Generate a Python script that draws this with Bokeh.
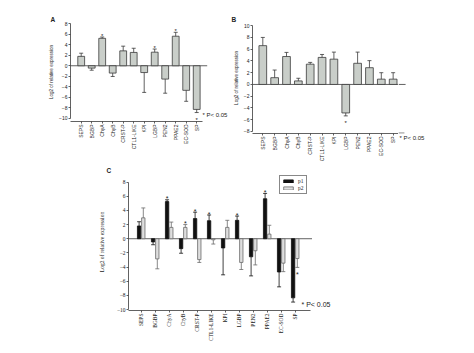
from math import pi
from bokeh.plotting import figure
from bokeh.layouts import column, row
from bokeh.models import Label, FixedTicker, Legend, LegendItem, Range1d, Title
from bokeh.core.properties import value
from bokeh.embed import file_html
from bokeh.resources import INLINE

genes = ["SEPS", "BGBP", "ChyA", "ChyB", "CRST-P", "CTL1-LIKE", "KPI", "LGBP",
         "PEN2", "PPAE2", "EC-SOD", "SP"]

# panel A (= p1 in panel C)
p1_mean = [1.8, -0.45, 5.25, -1.4, 2.85, 2.55, -1.3, 2.6, -2.55, 5.65, -4.7, -8.35]
p1_err = [0.6, 0.4, 0.25, 0.65, 0.9, 0.8, 3.8, 0.6, 2.7, 0.75, 2.1, 0.6]
a_star = [0, 0, 1, 0, 0, 0, 0, 1, 0, 1, 0, 1]

# panel B
b_mean = [6.6, 1.15, 4.75, 0.6, 3.45, 4.6, 4.3, -4.85, 3.6, 2.85, 0.9, 0.9]
b_err = [1.4, 1.3, 0.7, 0.45, 0.3, 0.5, 1.2, 0.5, 1.9, 1.2, 1.1, 1.1]
b_star = [0, 0, 0, 0, 0, 0, 0, 1, 0, 0, 0, 0]

# panel C, p2
p2_mean = [2.95, -2.85, 1.6, 1.6, -2.95, -0.15, 1.6, -3.35, -1.7, 0.65, -3.45, -2.8]
p2_err = [1.4, 1.4, 0.75, 0.4, 0.4, 0.6, 1.0, 1.0, 2.0, 1.25, 1.2, 1.25]
c_p1_star = [0, 0, 1, 0, 1, 1, 0, 1, 0, 1, 0, 0]
c_p2_star = [0, 0, 0, 1, 0, 0, 0, 0, 0, 0, 0, 1]

a_yticks = [-10, -8, -6, -4, -2, 0, 2, 4, 6, 8]
b_yticks = [-8, -6, -4, -2, 0, 2, 4, 6, 8, 10]
c_yticks = [-10, -8, -6, -4, -2, 0, 2, 4, 6, 8]
sig_text = "* P< 0.05"
y_title = "Log2 of relative expression"

BAR_FILL = "#c9cec9"
EDGE = "#3a3a3a"
TXT = "#222222"

ROW_TOP, ROW_BOTTOM, ROW_H = 22, 134, 164
A_H = ROW_H - 12  # panel A axis sits 12 px higher than panel B's


def make_panel(width, height, frame, xmap, ymap, yticks, xbounds, zero_end,
               font, tick_size, label_size, label_standoff, letter, letter_x):
    left, right, top, bottom = frame
    x0, xs = xmap
    y0, ys = ymap
    tx = lambda px: (px - x0) / xs
    ty = lambda py: (y0 - py) / ys
    p = figure(width=width, height=height, title=None,
               x_range=Range1d(tx(left), tx(right)),
               y_range=Range1d(ty(bottom), ty(top)),
               toolbar_location=None, output_backend="svg",
               min_border_left=left, min_border_right=width - right,
               min_border_top=top, min_border_bottom=height - bottom)
    p.align = "start"
    p.outline_line_color = None
    p.xgrid.visible = False
    p.ygrid.visible = False
    p.background_fill_color = "white"
    p.border_fill_color = "white"
    for ax in (p.xaxis[0], p.yaxis[0]):
        ax.axis_line_color = EDGE
        ax.axis_line_width = 0.8
        ax.major_tick_line_color = EDGE
        ax.major_tick_line_width = 0.8
        ax.major_tick_out = 2
        ax.major_tick_in = 0
        ax.minor_tick_line_color = None
        ax.major_label_text_font = font
        ax.major_label_text_font_size = tick_size
        ax.major_label_text_color = TXT
        ax.major_label_standoff = 1
    p.xaxis.ticker = FixedTicker(ticks=list(range(len(genes))))
    p.xaxis.major_label_overrides = {i: g for i, g in enumerate(genes)}
    p.xaxis.major_label_orientation = pi / 2
    p.xaxis.bounds = xbounds
    p.yaxis.ticker = FixedTicker(ticks=yticks)
    p.yaxis.bounds = (min(yticks), max(yticks))
    p.yaxis.axis_label = y_title
    p.yaxis.axis_label_text_font = font
    p.yaxis.axis_label_text_font_size = label_size
    p.yaxis.axis_label_text_font_style = "normal"
    p.yaxis.axis_label_text_color = TXT
    p.yaxis.axis_label_standoff = label_standoff
    p.segment(x0=[tx(left)], y0=[0], x1=[zero_end], y1=[0],
              line_color=EDGE, line_width=0.8)
    t = Title(text=letter, align="left", offset=letter_x - left, standoff=0,
              text_font="Liberation Sans", text_font_style="bold",
              text_font_size="6.5px", text_color=TXT, vertical_align="bottom")
    p.add_layout(t, "above")
    return p, tx, ty


def add_bars(p, xs, mean, err, stars, width, fill, edge, cap, star_size):
    r = p.vbar(x=xs, top=mean, bottom=0, width=width, fill_color=fill,
               line_color=edge, line_width=0.8)
    ends = [m + (e if m >= 0 else -e) for m, e in zip(mean, err)]
    p.segment(x0=xs, y0=mean, x1=xs, y1=ends, line_color=edge, line_width=0.8)
    p.scatter(x=xs, y=ends, marker="dash", size=cap, line_color=edge,
              line_width=0.8)
    up = [i for i, s in enumerate(stars) if s and mean[i] >= 0]
    dn = [i for i, s in enumerate(stars) if s and mean[i] < 0]
    if up:
        p.text(x=[xs[i] for i in up], y=[ends[i] for i in up], text=["*"] * len(up),
               text_font=value("Liberation Sans"), text_font_size=star_size,
               text_align="center", text_baseline="alphabetic", y_offset=-1,
               text_color=TXT)
    if dn:
        p.text(x=[xs[i] for i in dn], y=[ends[i] for i in dn], text=["*"] * len(dn),
               text_font=value("Liberation Sans"), text_font_size=star_size,
               text_align="center", text_baseline="alphabetic", y_offset=7,
               text_color=TXT)
    return r


def sig_label(p, x, y, size):
    p.add_layout(Label(x=x, y=y, text=sig_text, text_font="Liberation Sans",
                       text_font_size=size, text_baseline="middle",
                       text_color=TXT))


idx = list(range(len(genes)))

# ---------------- Panel A ----------------
pA, txA, tyA = make_panel(228, A_H, (70, 228, ROW_TOP, A_H - (ROW_H - ROW_BOTTOM)),
                          (80.7, 10.5), (65.7, 5.28), a_yticks,
                          ((70 - 80.7) / 10.5, 11.55), 12.0,
                          "Liberation Sans", "5px", "4.5px", 2, "A", 50)
add_bars(pA, idx, p1_mean, p1_err, a_star, 0.65, BAR_FILL, EDGE, 4, "6px")
sig_label(pA, txA(202), tyA(115), "6px")

# ---------------- Panel B (main + right strip) ----------------
B_W = 170
S_W = 246 - B_W
pB, txB, tyB = make_panel(B_W, ROW_H, (24, B_W, ROW_TOP, ROW_BOTTOM), (34.3, 11.85),
                          (84.5, 5.93), b_yticks, ((24 - 34.3) / 11.85, 11.95), 12.05,
                          "Liberation Sans", "5px", "4.5px", 2, "B", 3)
add_bars(pB, idx, b_mean, b_err, b_star, 0.65, BAR_FILL, EDGE, 4, "6px")

pS = figure(width=S_W, height=ROW_H, title=None,
            x_range=Range1d(txB(B_W), txB(246)),
            y_range=Range1d(tyB(ROW_BOTTOM), tyB(ROW_TOP)),
            toolbar_location=None, output_backend="svg",
            x_axis_location=None, y_axis_location=None,
            min_border_left=0, min_border_right=0,
            min_border_top=ROW_TOP, min_border_bottom=ROW_H - ROW_BOTTOM)
pS.align = "start"
pS.outline_line_color = None
pS.xgrid.visible = False
pS.ygrid.visible = False
pS.border_fill_color = "white"
pS.background_fill_color = "white"
pS.segment(x0=[txB(B_W)], y0=[0], x1=[12.05], y1=[0], line_color=EDGE, line_width=0.8)
pS.segment(x0=[txB(B_W)], y0=[tyB(ROW_BOTTOM - 0.4)], x1=[11.95],
           y1=[tyB(ROW_BOTTOM - 0.4)], line_color=EDGE, line_width=0.8)
pS.add_layout(Title(text=sig_text, align="left", offset=1, standoff=2,
                    text_font="Liberation Sans", text_font_style="normal",
                    text_font_size="6px", text_color=TXT, vertical_align="top"),
              "below")

# ---------------- Panel C ----------------
pC, txC, tyC = make_panel(474, 189, (128, 474, 8, 146), (140.7, 14.0), (73.7, 7.13),
                          c_yticks, ((128 - 140.7) / 14.0, 12.1), 12.2,
                          "Liberation Serif", "5.5px", "5.5px", 9, "C", 106)
x_p1 = [i - 0.15 for i in idx]
x_p2 = [i + 0.15 for i in idx]
r1 = add_bars(pC, x_p1, p1_mean, p1_err, c_p1_star, 0.24, "#111111", "#111111", 4, "7px")
r2 = add_bars(pC, x_p2, p2_mean, p2_err, c_p2_star, 0.24, "#dedede", "#6a6a6a", 4, "7px")
sig_label(pC, txC(301), tyC(139.5), "7px")

legend = Legend(items=[LegendItem(label="p1", renderers=[r1]),
                       LegendItem(label="p2", renderers=[r2])],
                location=(151, 116), orientation="vertical")
legend.glyph_width = 12
legend.glyph_height = 4
legend.label_height = 5
legend.label_width = 6
legend.padding = 2
legend.spacing = 1
legend.margin = 0
legend.label_standoff = 4
legend.label_text_font = "Liberation Serif"
legend.label_text_font_size = "5.5px"
legend.label_text_color = TXT
legend.border_line_color = "#111111"
legend.border_line_width = 0.8
legend.background_fill_alpha = 1
pC.add_layout(legend)

top_row = row(pA, pB, pS, height=ROW_H)
layout = column(top_row, pC)
open("out.html", "w").write(file_html(layout, INLINE))
